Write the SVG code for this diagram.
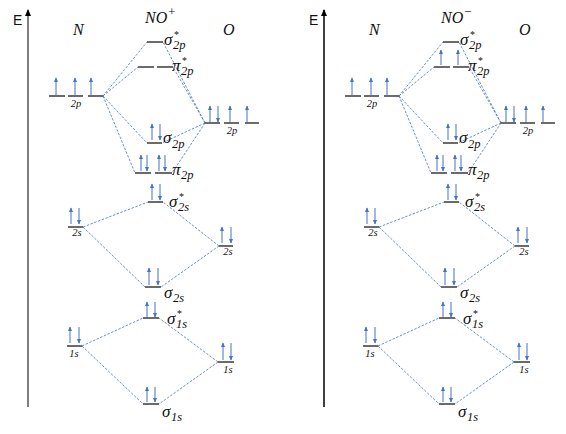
<svg xmlns="http://www.w3.org/2000/svg" width="566" height="434" viewBox="0 0 566 434">
<style>
.lv{stroke:#3a3a3a;stroke-width:1.5;fill:none}
.e{stroke:#4472C4;stroke-width:1;fill:none;marker-end:url(#ah)}
.c{stroke:#4472C4;stroke-width:0.8;fill:none;stroke-dasharray:2.5 1.5}
.mo{font-family:"Liberation Serif","DejaVu Serif",serif;font-style:italic;font-size:17px;fill:#111}
.sb{font-family:"Liberation Serif","DejaVu Serif",serif;font-style:italic;font-size:12.5px;fill:#111}
.st{font-family:"Liberation Serif","DejaVu Serif",serif;font-size:10px;fill:#111}
.ao{font-family:"Liberation Serif","DejaVu Serif",serif;font-style:italic;font-size:10.5px;fill:#111;text-anchor:middle}
.hd{font-family:"Liberation Serif","DejaVu Serif",serif;font-style:italic;font-size:16px;fill:#111}
.ax{font-family:"Liberation Sans",Arial,sans-serif;font-size:14px;fill:#111}
</style>
<defs>
<marker id="ah" markerUnits="userSpaceOnUse" markerWidth="6" markerHeight="6" refX="4" refY="2" orient="auto">
<path d="M0,0 L4.5,2 L0,4 z" fill="#4472C4"/>
</marker>
<marker id="axh" markerUnits="userSpaceOnUse" markerWidth="8" markerHeight="8" refX="6" refY="3" orient="auto">
<path d="M0,0 L7,3 L0,6 z" fill="#000"/>
</marker>
</defs>
<rect width="566" height="434" fill="#fff"/>

<!-- LEFT PANEL: NO+ -->
<g id="panel-noplus">
<g id="axis-left">
<line x1="28" y1="407" x2="28" y2="10" stroke="#7f7f7f" stroke-width="2" marker-end="url(#axh)"/>
<text class="ax" x="13" y="25">E</text>
</g>
<g id="heads-left">
<text class="hd" x="73" y="35">N</text>
<text class="hd" x="145" y="23">NO<tspan font-size="13" dy="-7">+</tspan></text>
<text class="hd" x="223" y="35">O</text>
</g>
<g id="conn-left">
<line class="c" x1="103" y1="96" x2="147" y2="42"/>
<line class="c" x1="103" y1="96" x2="138" y2="67"/>
<line class="c" x1="103" y1="96" x2="147" y2="143"/>
<line class="c" x1="103" y1="96" x2="135" y2="173"/>
<line class="c" x1="205" y1="123" x2="163" y2="42"/>
<line class="c" x1="205" y1="123" x2="173" y2="67"/>
<line class="c" x1="205" y1="123" x2="162" y2="143"/>
<line class="c" x1="205" y1="123" x2="172" y2="173"/>
<line class="c" x1="83" y1="227" x2="148" y2="202"/>
<line class="c" x1="83" y1="227" x2="145" y2="287"/>
<line class="c" x1="219" y1="246" x2="163" y2="202"/>
<line class="c" x1="219" y1="246" x2="161" y2="287"/>
<line class="c" x1="82" y1="346" x2="143" y2="318"/>
<line class="c" x1="82" y1="346" x2="143" y2="404"/>
<line class="c" x1="218" y1="362" x2="159" y2="318"/>
<line class="c" x1="218" y1="362" x2="159" y2="404"/>
</g>
<g id="L-N2p">
<line class="lv" x1="49" y1="96" x2="65" y2="96"/>
<line class="lv" x1="68" y1="96" x2="83" y2="96"/>
<line class="lv" x1="88" y1="96" x2="103" y2="96"/>
<line class="e" x1="56" y1="95" x2="56" y2="78"/>
<line class="e" x1="75" y1="95" x2="75" y2="78"/>
<line class="e" x1="91" y1="95" x2="91" y2="78"/>
<text class="ao" x="76" y="107">2p</text>
</g>
<g id="L-O2p">
<line class="lv" x1="205" y1="123" x2="220" y2="123"/>
<line class="lv" x1="224" y1="123" x2="239" y2="123"/>
<line class="lv" x1="245" y1="123" x2="259" y2="123"/>
<line class="e" x1="210" y1="122" x2="210" y2="106"/>
<line class="e" x1="218" y1="106" x2="218" y2="122"/>
<line class="e" x1="230" y1="122" x2="230" y2="106"/>
<line class="e" x1="247" y1="122" x2="247" y2="106"/>
<text class="ao" x="232" y="134">2p</text>
</g>
<g id="L-s2pstar">
<line class="lv" x1="147" y1="42" x2="163" y2="42"/>
<text class="mo" x="164" y="45">σ</text>
<text class="st" x="174" y="38">*</text>
<text class="sb" x="173" y="49">2p</text>
</g>
<g id="L-p2pstar">
<line class="lv" x1="138" y1="67" x2="154" y2="67"/>
<line class="lv" x1="157" y1="67" x2="173" y2="67"/>
<text class="mo" x="172" y="71">π</text>
<text class="st" x="182" y="64">*</text>
<text class="sb" x="181" y="75">2p</text>
</g>
<g id="L-s2p">
<line class="lv" x1="147" y1="143" x2="162" y2="143"/>
<line class="e" x1="152" y1="140" x2="152" y2="124"/>
<line class="e" x1="160" y1="124" x2="160" y2="140"/>
<text class="mo" x="163" y="143">σ</text>
<text class="sb" x="172" y="148">2p</text>
</g>
<g id="L-p2p">
<line class="lv" x1="135" y1="173" x2="151" y2="173"/>
<line class="lv" x1="155" y1="173" x2="172" y2="173"/>
<line class="e" x1="141" y1="171" x2="141" y2="155"/>
<line class="e" x1="147" y1="155" x2="147" y2="171"/>
<line class="e" x1="159" y1="171" x2="159" y2="155"/>
<line class="e" x1="165" y1="155" x2="165" y2="171"/>
<text class="mo" x="172" y="175">π</text>
<text class="sb" x="181" y="179">2p</text>
</g>
<g id="L-N2s">
<line class="lv" x1="68" y1="227" x2="83" y2="227"/>
<line class="e" x1="71" y1="224" x2="71" y2="208"/>
<line class="e" x1="79" y1="208" x2="79" y2="224"/>
<text class="ao" x="77" y="236">2s</text>
</g>
<g id="L-O2s">
<line class="lv" x1="219" y1="246" x2="233" y2="246"/>
<line class="e" x1="222" y1="243" x2="222" y2="227"/>
<line class="e" x1="231" y1="227" x2="231" y2="243"/>
<text class="ao" x="228" y="255">2s</text>
</g>
<g id="L-s2sstar">
<line class="lv" x1="148" y1="202" x2="163" y2="202"/>
<line class="e" x1="152" y1="200" x2="152" y2="184"/>
<line class="e" x1="160" y1="184" x2="160" y2="200"/>
<text class="mo" x="169" y="207">σ</text>
<text class="st" x="179" y="200">*</text>
<text class="sb" x="178" y="211">2s</text>
</g>
<g id="L-s2s">
<line class="lv" x1="145" y1="287" x2="161" y2="287"/>
<line class="e" x1="149" y1="285" x2="149" y2="268"/>
<line class="e" x1="158" y1="268" x2="158" y2="285"/>
<text class="mo" x="164" y="298">σ</text>
<text class="sb" x="173" y="302">2s</text>
</g>
<g id="L-N1s">
<line class="lv" x1="67" y1="346" x2="82" y2="346"/>
<line class="e" x1="70" y1="343" x2="70" y2="327"/>
<line class="e" x1="79" y1="327" x2="79" y2="343"/>
<text class="ao" x="74" y="357">1s</text>
</g>
<g id="L-O1s">
<line class="lv" x1="218" y1="362" x2="234" y2="362"/>
<line class="e" x1="223" y1="360" x2="223" y2="343"/>
<line class="e" x1="231" y1="343" x2="231" y2="360"/>
<text class="ao" x="228" y="373">1s</text>
</g>
<g id="L-s1sstar">
<line class="lv" x1="143" y1="318" x2="159" y2="318"/>
<line class="e" x1="147" y1="317" x2="147" y2="302"/>
<line class="e" x1="155" y1="302" x2="155" y2="317"/>
<text class="mo" x="167" y="324">σ</text>
<text class="st" x="177" y="317">*</text>
<text class="sb" x="176" y="328">1s</text>
</g>
<g id="L-s1s">
<line class="lv" x1="143" y1="404" x2="159" y2="404"/>
<line class="e" x1="147" y1="402" x2="147" y2="387"/>
<line class="e" x1="155" y1="387" x2="155" y2="402"/>
<text class="mo" x="162" y="417">σ</text>
<text class="sb" x="171" y="421">1s</text>
</g>
</g>

<!-- RIGHT PANEL: NO- -->
<g id="panel-nominus" transform="translate(296,0)">
<g id="axis-right">
<line x1="28" y1="407" x2="28" y2="10" stroke="#000" stroke-width="1.5" marker-end="url(#axh)"/>
<text class="ax" x="13" y="25">E</text>
</g>
<g id="heads-right">
<text class="hd" x="73" y="35">N</text>
<text class="hd" x="145" y="23">NO<tspan font-size="13" dy="-7">−</tspan></text>
<text class="hd" x="223" y="35">O</text>
</g>
<g id="conn-right">
<line class="c" x1="103" y1="96" x2="147" y2="42"/>
<line class="c" x1="103" y1="96" x2="138" y2="67"/>
<line class="c" x1="103" y1="96" x2="147" y2="143"/>
<line class="c" x1="103" y1="96" x2="135" y2="173"/>
<line class="c" x1="205" y1="123" x2="163" y2="42"/>
<line class="c" x1="205" y1="123" x2="173" y2="67"/>
<line class="c" x1="205" y1="123" x2="162" y2="143"/>
<line class="c" x1="205" y1="123" x2="172" y2="173"/>
<line class="c" x1="83" y1="227" x2="148" y2="202"/>
<line class="c" x1="83" y1="227" x2="145" y2="287"/>
<line class="c" x1="219" y1="246" x2="163" y2="202"/>
<line class="c" x1="219" y1="246" x2="161" y2="287"/>
<line class="c" x1="82" y1="346" x2="143" y2="318"/>
<line class="c" x1="82" y1="346" x2="143" y2="404"/>
<line class="c" x1="218" y1="362" x2="159" y2="318"/>
<line class="c" x1="218" y1="362" x2="159" y2="404"/>
</g>
<g id="R-N2p">
<line class="lv" x1="49" y1="96" x2="65" y2="96"/>
<line class="lv" x1="68" y1="96" x2="83" y2="96"/>
<line class="lv" x1="88" y1="96" x2="103" y2="96"/>
<line class="e" x1="56" y1="95" x2="56" y2="78"/>
<line class="e" x1="75" y1="95" x2="75" y2="78"/>
<line class="e" x1="91" y1="95" x2="91" y2="78"/>
<text class="ao" x="76" y="107">2p</text>
</g>
<g id="R-O2p">
<line class="lv" x1="205" y1="123" x2="220" y2="123"/>
<line class="lv" x1="224" y1="123" x2="239" y2="123"/>
<line class="lv" x1="245" y1="123" x2="259" y2="123"/>
<line class="e" x1="210" y1="122" x2="210" y2="106"/>
<line class="e" x1="218" y1="106" x2="218" y2="122"/>
<line class="e" x1="230" y1="122" x2="230" y2="106"/>
<line class="e" x1="247" y1="122" x2="247" y2="106"/>
<text class="ao" x="232" y="134">2p</text>
</g>
<g id="R-s2pstar">
<line class="lv" x1="147" y1="42" x2="163" y2="42"/>
<text class="mo" x="164" y="45">σ</text>
<text class="st" x="174" y="38">*</text>
<text class="sb" x="173" y="49">2p</text>
</g>
<g id="R-p2pstar">
<line class="lv" x1="138" y1="67" x2="154" y2="67"/>
<line class="lv" x1="157" y1="67" x2="173" y2="67"/>
<line class="e" x1="145" y1="65" x2="145" y2="50"/>
<line class="e" x1="162" y1="65" x2="162" y2="50"/>
<text class="mo" x="172" y="71">π</text>
<text class="st" x="182" y="64">*</text>
<text class="sb" x="181" y="75">2p</text>
</g>
<g id="R-s2p">
<line class="lv" x1="147" y1="143" x2="162" y2="143"/>
<line class="e" x1="152" y1="140" x2="152" y2="124"/>
<line class="e" x1="160" y1="124" x2="160" y2="140"/>
<text class="mo" x="163" y="143">σ</text>
<text class="sb" x="172" y="148">2p</text>
</g>
<g id="R-p2p">
<line class="lv" x1="135" y1="173" x2="151" y2="173"/>
<line class="lv" x1="155" y1="173" x2="172" y2="173"/>
<line class="e" x1="141" y1="171" x2="141" y2="155"/>
<line class="e" x1="147" y1="155" x2="147" y2="171"/>
<line class="e" x1="159" y1="171" x2="159" y2="155"/>
<line class="e" x1="165" y1="155" x2="165" y2="171"/>
<text class="mo" x="172" y="175">π</text>
<text class="sb" x="181" y="179">2p</text>
</g>
<g id="R-N2s">
<line class="lv" x1="68" y1="227" x2="83" y2="227"/>
<line class="e" x1="71" y1="224" x2="71" y2="208"/>
<line class="e" x1="79" y1="208" x2="79" y2="224"/>
<text class="ao" x="77" y="236">2s</text>
</g>
<g id="R-O2s">
<line class="lv" x1="219" y1="246" x2="233" y2="246"/>
<line class="e" x1="222" y1="243" x2="222" y2="227"/>
<line class="e" x1="231" y1="227" x2="231" y2="243"/>
<text class="ao" x="228" y="255">2s</text>
</g>
<g id="R-s2sstar">
<line class="lv" x1="148" y1="202" x2="163" y2="202"/>
<line class="e" x1="152" y1="200" x2="152" y2="184"/>
<line class="e" x1="160" y1="184" x2="160" y2="200"/>
<text class="mo" x="169" y="207">σ</text>
<text class="st" x="179" y="200">*</text>
<text class="sb" x="178" y="211">2s</text>
</g>
<g id="R-s2s">
<line class="lv" x1="145" y1="287" x2="161" y2="287"/>
<line class="e" x1="149" y1="285" x2="149" y2="268"/>
<line class="e" x1="158" y1="268" x2="158" y2="285"/>
<text class="mo" x="164" y="298">σ</text>
<text class="sb" x="173" y="302">2s</text>
</g>
<g id="R-N1s">
<line class="lv" x1="67" y1="346" x2="82" y2="346"/>
<line class="e" x1="70" y1="343" x2="70" y2="327"/>
<line class="e" x1="79" y1="327" x2="79" y2="343"/>
<text class="ao" x="74" y="357">1s</text>
</g>
<g id="R-O1s">
<line class="lv" x1="218" y1="362" x2="234" y2="362"/>
<line class="e" x1="223" y1="360" x2="223" y2="343"/>
<line class="e" x1="231" y1="343" x2="231" y2="360"/>
<text class="ao" x="228" y="373">1s</text>
</g>
<g id="R-s1sstar">
<line class="lv" x1="143" y1="318" x2="159" y2="318"/>
<line class="e" x1="147" y1="317" x2="147" y2="302"/>
<line class="e" x1="155" y1="302" x2="155" y2="317"/>
<text class="mo" x="167" y="324">σ</text>
<text class="st" x="177" y="317">*</text>
<text class="sb" x="176" y="328">1s</text>
</g>
<g id="R-s1s">
<line class="lv" x1="143" y1="404" x2="159" y2="404"/>
<line class="e" x1="147" y1="402" x2="147" y2="387"/>
<line class="e" x1="155" y1="387" x2="155" y2="402"/>
<text class="mo" x="162" y="417">σ</text>
<text class="sb" x="171" y="421">1s</text>
</g>
</g>
</svg>
